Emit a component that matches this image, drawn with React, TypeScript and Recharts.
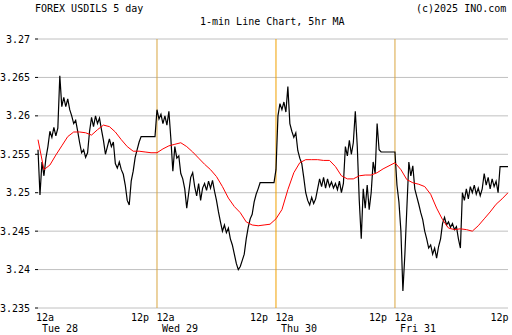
import { CartesianGrid, Line, LineChart, ReferenceLine, XAxis, YAxis } from "recharts";

// 1-min closes, sampled every 0.4h, one array per session day
const priceTue = [
  3.2556, 3.2497, 3.254, 3.2522, 3.2545, 3.256, 3.258, 3.2572, 3.2585, 3.2574,
  3.2584, 3.2652, 3.2612, 3.2624, 3.2612, 3.2622, 3.2608, 3.26, 3.259, 3.2594,
  3.258, 3.2565, 3.2552, 3.2556, 3.2546, 3.2552, 3.258, 3.2598, 3.2586, 3.26,
  3.259, 3.2597, 3.2582, 3.2568, 3.255, 3.256, 3.257, 3.256, 3.2566, 3.2538,
  3.2532, 3.254, 3.253, 3.2524, 3.251, 3.249, 3.2484, 3.2515, 3.2528, 3.2546,
  3.2556, 3.2566, 3.2573, 3.2573, 3.2573, 3.2573, 3.2573, 3.2573, 3.2573, 3.2573,
];
const priceWed = [
  3.2608, 3.2596, 3.2602, 3.259, 3.26, 3.2588, 3.2606, 3.257, 3.2528, 3.256,
  3.2545, 3.2548, 3.2525, 3.2518, 3.2505, 3.248, 3.25, 3.252, 3.2526, 3.2508,
  3.2496, 3.2512, 3.249, 3.2506, 3.2512, 3.2503, 3.2515, 3.2506, 3.2516, 3.2502,
  3.249, 3.2475, 3.2462, 3.245, 3.2458, 3.2448, 3.2454, 3.244, 3.2432, 3.242,
  3.2408, 3.24, 3.2404, 3.2412, 3.242, 3.244, 3.2455, 3.2466, 3.2472, 3.2488,
  3.2498, 3.2505, 3.2513, 3.2513, 3.2513, 3.2513, 3.2513, 3.2513, 3.2513, 3.2513,
];
const priceThu = [
  3.253, 3.26, 3.2616, 3.2608, 3.2618, 3.2605, 3.2638, 3.259, 3.258, 3.2572,
  3.2578, 3.2555, 3.2545, 3.2538, 3.252, 3.25, 3.249, 3.2484, 3.2494, 3.2486,
  3.2492, 3.2505, 3.2518, 3.2508, 3.252, 3.2506, 3.2518, 3.2508, 3.2514, 3.2506,
  3.2512, 3.2504, 3.2515, 3.25, 3.2512, 3.256, 3.2548, 3.2568, 3.255, 3.2565,
  3.2606, 3.256, 3.249, 3.244, 3.2505, 3.248, 3.251, 3.2478, 3.25, 3.254,
  3.2525, 3.259, 3.2556, 3.2553, 3.2553, 3.2553, 3.2553, 3.2553, 3.2553, 3.2553,
];
const priceFri = [
  3.2553, 3.251, 3.2488, 3.245, 3.2372, 3.242, 3.248, 3.254, 3.2522, 3.2535,
  3.2505, 3.2495, 3.2485, 3.2474, 3.2465, 3.245, 3.244, 3.2428, 3.2432, 3.242,
  3.2428, 3.2415, 3.243, 3.244, 3.246, 3.2468, 3.2458, 3.2462, 3.2455, 3.246,
  3.2452, 3.2456, 3.244, 3.2428, 3.25, 3.249, 3.2505, 3.2492, 3.2508, 3.25,
  3.251, 3.2498, 3.2506, 3.2496, 3.2505, 3.2525, 3.251, 3.252, 3.2505, 3.2518,
  3.2508, 3.2515, 3.25, 3.2534, 3.2534, 3.2534, 3.2534, 3.2534,
];

// 5hr moving average, every 1.2h
const movingAvg = [
  3.2569, 3.253, 3.2536, 3.2549, 3.2561, 3.2573, 3.2579, 3.2579, 3.2578, 3.2575,
  3.2582, 3.2588, 3.2586, 3.2579, 3.2569, 3.256, 3.2554, 3.2554, 3.2553, 3.2552,
  3.2552, 3.2557, 3.2561, 3.2563, 3.2565, 3.256, 3.2553, 3.2545, 3.2537, 3.253,
  3.2521, 3.2508, 3.2493, 3.2482, 3.2474, 3.2462, 3.2458, 3.2457, 3.2458, 3.2459,
  3.2466, 3.2478, 3.2504, 3.2526, 3.2539, 3.2543, 3.2543, 3.2543, 3.2542, 3.2542,
  3.2534, 3.2522, 3.2518, 3.2518, 3.2522, 3.2523, 3.2523, 3.2526, 3.2531, 3.2535,
  3.2539, 3.253, 3.2517, 3.2513, 3.2511, 3.2508, 3.2498, 3.248, 3.2465, 3.2454,
  3.2452, 3.2453, 3.2452, 3.245, 3.2457, 3.2466, 3.2475, 3.2485, 3.2492, 3.25,
];

const priceTicks = [3.235, 3.24, 3.245, 3.25, 3.255, 3.26, 3.265, 3.27];
const dayStarts = [24, 48, 72];
const tickHours = [0, 24, 48, 72, 94.8];
const dayLabels = ["Tue 28", "Wed 29", "Thu 30", "Fri 31", ""];

const STEP = 0.4;
const price = [...priceTue, ...priceWed, ...priceThu, ...priceFri];
const rows = price.map((p, i) => ({
  t: Math.round(i * STEP * 10) / 10,
  price: p,
  ma: i % 3 === 0 ? movingAvg[i / 3] : null,
}));

const FONT = "'DejaVu Sans Mono', 'Liberation Mono', monospace";

const DayTick = (props: any) => {
  const { x, y, payload } = props;
  const i = tickHours.indexOf(payload.value);
  const txt = { fontFamily: FONT, fontSize: 10, fill: "#000" };
  if (i === 0) {
    return (
      <g>
        <text x={x - 2} y={y + 13} {...txt}>12a</text>
        <text x={x + 4} y={y + 24} {...txt}>{dayLabels[i]}</text>
      </g>
    );
  }
  if (i === tickHours.length - 1) {
    return (
      <g>
        <text x={x + 0.5} y={y + 13} textAnchor="end" {...txt}>12p</text>
      </g>
    );
  }
  return (
    <g>
      <text x={x - 8} y={y + 13} textAnchor="end" {...txt}>12p</text>
      <text x={x - 0.5} y={y + 13} {...txt}>12a</text>
      <text x={x + 5} y={y + 24} {...txt}>{dayLabels[i]}</text>
    </g>
  );
};

const NoTick = () => <g />;

export default function App() {
  return (
    <div style={{ position: "absolute", left: 0, top: 0, width: 512, height: 335, background: "#fff" }}>
      <LineChart width={512} height={335} data={rows} margin={{ top: 39, right: 0, left: 0, bottom: 0 }}>
        <CartesianGrid vertical={false} stroke="#c0c0c0" />
        <XAxis
          dataKey="t"
          type="number"
          domain={[0, 94.8]}
          ticks={tickHours}
          interval={0}
          height={27}
          axisLine={false}
          tickLine={false}
          tickSize={0}
          tickMargin={0}
          tick={<DayTick />}
        />
        <YAxis
          domain={[3.235, 3.27]}
          ticks={priceTicks}
          interval={0}
          width={38}
          axisLine={false}
          tickSize={3}
          tickMargin={5}
          tickLine={{ stroke: "#000" }}
          tick={{ fontFamily: FONT, fontSize: 10, fill: "#000" }}
          tickFormatter={(v: number) => String(v)}
        />
        <YAxis
          yAxisId="r"
          orientation="right"
          domain={[3.235, 3.27]}
          ticks={priceTicks}
          interval={0}
          width={4}
          axisLine={false}
          tickSize={4}
          tickLine={{ stroke: "#000" }}
          tick={<NoTick />}
        />
        {dayStarts.map((d) => (
          <ReferenceLine key={d} x={d} stroke={d === 48 ? "#f0a000" : "#d9a540"} />
        ))}
        <Line
          type="linear"
          dataKey="price"
          stroke="#000"
          strokeWidth={1.2}
          dot={false}
          isAnimationActive={false}
        />
        <Line
          type="linear"
          dataKey="ma"
          stroke="#ff0000"
          strokeWidth={1}
          dot={false}
          connectNulls
          isAnimationActive={false}
        />
      </LineChart>
      <svg width={512} height={30} style={{ position: "absolute", left: 0, top: 0, pointerEvents: "none" }}>
        <g fontFamily={FONT} fontSize={10} fill="#000">
          <text x={35} y={12}>FOREX USDILS 5 day</text>
          <text x={200} y={25}>1-min Line Chart, 5hr MA</text>
          <text x={416} y={12}>(c)2025 INO.com</text>
        </g>
      </svg>
    </div>
  );
}
